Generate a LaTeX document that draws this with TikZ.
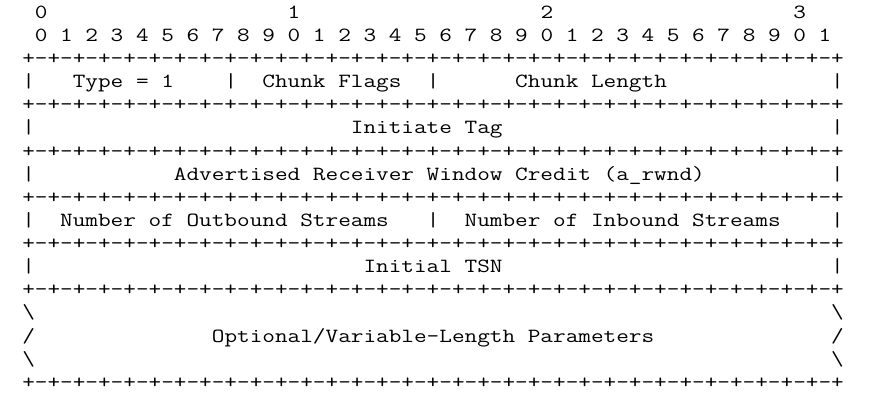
\documentclass[tikz,border=0pt]{standalone}
\usepackage{fontspec}
\newfontfamily\asciifont[FakeStretch=1.219]{Latin Modern Mono}
\frenchspacing

\tikzset{
  ascii/.style={font=\asciifont\fontsize{15.1}{19}\selectfont, text=black,
                inner sep=0pt, anchor=base west},
  declare function={cx(\c)=22+12.64*\c; ry(\r)=18.3+23.125*\r;}
}

\begin{document}
\begin{tikzpicture}[x=0.75pt, y=-0.75pt]
            \useasboundingbox (0,0) rectangle (881,407);

            % bit numbers
            \foreach \d/\c in {0/1,1/21,2/41,3/61}
                \node[ascii] (T_\d) at ({cx(\c)},{ry(0)}) {\d};
            \foreach \i in {0,...,31}{
                \pgfmathtruncatemacro{\b}{mod(\i,10)}
                \node[ascii] (B_\i) at ({cx(1+2*\i)},{ry(1)}) {\b};
            }

            % separator rows
            \foreach \r in {2,4,6,8,10,12,16}
                \node[ascii] (S_\r) at ({cx(0)},{ry(\r)})
                    {+-+-+-+-+-+-+-+-+-+-+-+-+-+-+-+-+-+-+-+-+-+-+-+-+-+-+-+-+-+-+-+-+};

            % field borders
            \foreach \r/\c in {3/0,3/16,3/32,3/64,5/0,5/64,7/0,7/64,9/0,9/32,9/64,11/0,11/64}
                \node[ascii] (V_\r_\c) at ({cx(\c)},{ry(\r)}) {|};
            \foreach \r in {13,15}{
                \node[ascii] (L_\r) at ({cx(0)},{ry(\r)}) {\textbackslash};
                \node[ascii] (R_\r) at ({cx(64)},{ry(\r)}) {\textbackslash};
            }
            \node[ascii] (L_14) at ({cx(0)},{ry(14)}) {/};
            \node[ascii] (R_14) at ({cx(64)},{ry(14)}) {/};

            % field names
            \node[ascii] (F_1) at ({cx(4)},{ry(3)})  {Type = 1};
            \node[ascii] (F_2) at ({cx(19)},{ry(3)}) {Chunk Flags};
            \node[ascii] (F_3) at ({cx(39)},{ry(3)}) {Chunk Length};
            \node[ascii] (F_4) at ({cx(26)},{ry(5)}) {Initiate Tag};
            \node[ascii] (F_5) at ({cx(12)},{ry(7)}) {Advertised Receiver Window Credit (a\_rwnd)};
            \node[ascii] (F_6) at ({cx(3)},{ry(9)})  {Number of Outbound Streams};
            \node[ascii] (F_7) at ({cx(35)},{ry(9)}) {Number of Inbound Streams};
            \node[ascii] (F_8) at ({cx(27)},{ry(11)}) {Initial TSN};
            \node[ascii] (F_9) at ({cx(15)},{ry(14)}) {Optional/Variable-Length Parameters};
        \end{tikzpicture}
\end{document}
